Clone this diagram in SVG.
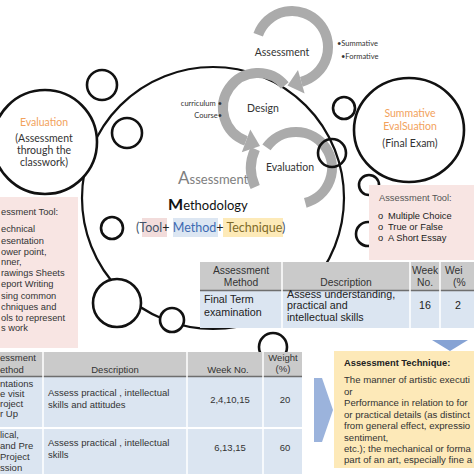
<svg xmlns="http://www.w3.org/2000/svg" width="474" height="474" viewBox="0 0 474 474">
<style>
.c{fill:none;stroke:#111;stroke-width:2.6}
.cw{fill:#fff;stroke:#111;stroke-width:2.6}
.arc{fill:none;stroke:#ababab;stroke-width:10}
.head{fill:#ababab}
.cal{font-family:Lato,"Open Sans",sans-serif}
.ar{font-family:"Liberation Sans",Arial,sans-serif}
.or{fill:#f2a25c}
.dk{fill:#333}
.th{font-size:10.3px;fill:#333;text-anchor:middle}
.td{font-size:10.7px;fill:#222}
.t3{font-size:9.5px;fill:#333}
</style>
<rect width="474" height="474" fill="#fff"/>

<!-- big circle -->
<g id="main-circle">
<circle cx="213" cy="198" r="131" fill="none" stroke="#111" stroke-width="2.2"/>
</g>

<!-- cycle arrows -->
<g id="cycle-arrows">
<path class="arc" d="M258.2,34.7 A36,36 0 1 1 301.3,81.8"/>
<polygon class="head" points="304.6,93.5 298,70 287.5,85.5"/>
<path class="arc" d="M284.8,85.5 A35,35 0 1 0 246,140.9"/>
<polygon class="head" points="241.8,152.3 250.3,129.4 260,146"/>
<path class="arc" d="M266.5,147.4 A36,36 0 1 1 305.3,202.8"/>
<path class="arc" stroke-width="8" d="M255.2,149 A45,45 0 0 0 255.2,187"/>
</g>

<g id="cycle-labels" class="cal">
<text x="282" y="56" font-size="10.5" text-anchor="middle" class="dk">Assessment</text>
<text x="337" y="46" font-size="7.5" class="dk">•Summative</text>
<text x="341" y="59" font-size="7.5" class="dk">•Formative</text>
<text x="263" y="112" font-size="10.5" text-anchor="middle" class="dk">Design</text>
<text x="222" y="106" font-size="7.5" text-anchor="end" class="dk">curriculum •</text>
<text x="222" y="118" font-size="7.5" text-anchor="end" class="dk">Course•</text>
<text x="290" y="171" font-size="10.5" text-anchor="middle" class="dk">Evaluation</text>
</g>

<!-- small decorative circles -->
<g id="small-circles">
<circle class="cw" cx="102" cy="85" r="15"/>
<circle class="cw" cx="127" cy="133" r="15"/>
<circle class="cw" cx="112" cy="228" r="11"/>
<circle class="cw" cx="117" cy="303" r="24"/>
<circle class="cw" cx="172" cy="320" r="12"/>
<circle class="c" cx="344" cy="108" r="11"/>
<circle class="c" cx="332" cy="153" r="14"/>
<circle class="c" cx="369" cy="185" r="10"/>
<circle class="c" cx="368" cy="234" r="12"/>
<circle class="cw" cx="273" cy="347" r="14"/>
</g>

<!-- left evaluation circle -->
<g id="evaluation">
<circle class="cw" cx="45" cy="142" r="52"/>
<g class="cal" font-size="10.5" text-anchor="middle">
<text x="44" y="126" class="or">Evaluation</text>
<text x="44" y="142" class="dk">(Assessment</text>
<text x="44" y="154" class="dk">through the</text>
<text x="44" y="166" class="dk">classwork)</text>
</g>
</g>

<!-- right summative circle -->
<g id="summative">
<ellipse class="cw" cx="409" cy="130" rx="55" ry="52"/>
<g class="cal" font-size="10.5" text-anchor="middle">
<text x="410" y="117" class="or">Summative</text>
<text x="410" y="130" class="or">EvalSuation</text>
<text x="410" y="147" class="dk">(Final Exam)</text>
</g>
</g>

<!-- methodology title -->
<g id="methodology" class="cal">
<text x="178" y="184" fill="#808080"><tspan font-size="17">A</tspan><tspan font-size="13">ssessment</tspan></text>
<text x="168" y="210" fill="#111"><tspan font-size="16" font-weight="bold">M</tspan><tspan font-size="13">ethodology</tspan></text>
<rect x="142" y="218" width="25" height="19" fill="#f2dcdb"/>
<rect x="173" y="218" width="45" height="19" fill="#dce6f2"/>
<rect x="223" y="218" width="60" height="19" fill="#fdeab8"/>
<text x="136" y="232" font-size="12.5" fill="#44546a">(Tool<tspan fill="#222">+ </tspan><tspan fill="#3d6bb3">Method</tspan><tspan fill="#222">+ </tspan><tspan fill="#7f6a2a">Technique</tspan>)</text>
</g>

<!-- left tool box -->
<g id="tool-left" class="ar">
<rect x="0" y="197" width="78" height="151" fill="#f8e5e3"/>
<g font-size="9.3" fill="#333">
<text x="1" y="215">essment Tool:</text>
<text x="1" y="232">echnical</text>
<text x="1" y="244">esentation</text>
<text x="1" y="255">ower point,</text>
<text x="1" y="265">nner,</text>
<text x="1" y="276">rawings Sheets</text>
<text x="1" y="287">eport Writing</text>
<text x="1" y="299">sing common</text>
<text x="1" y="310">chniques and</text>
<text x="1" y="321">ols to represent</text>
<text x="1" y="331">s work</text>
</g>
</g>

<!-- right tool box -->
<g id="tool-right" class="ar">
<rect x="369" y="185" width="105" height="75" fill="#f8e5e3"/>
<text x="379" y="201" font-size="9.3" fill="#555">Assessment Tool:</text>
<g font-size="9.3" fill="#222">
<text x="378" y="219">o</text><text x="388" y="219">Multiple Choice</text>
<text x="378" y="230">o</text><text x="388" y="230">True or False</text>
<text x="378" y="241">o</text><text x="388" y="241">A Short Essay</text>
</g>
</g>

<!-- final term table -->
<g id="table-final" class="ar">
<rect x="200" y="262" width="274" height="28" fill="#cacaca"/>
<rect x="200" y="291" width="274" height="37" fill="#dbe5f1"/>
<line x1="200" y1="290.5" x2="474" y2="290.5" stroke="#6e6e6e" stroke-width="1.5"/>
<g stroke="#fff" stroke-width="1.5">
<line x1="282" y1="262" x2="282" y2="328"/>
<line x1="410" y1="262" x2="410" y2="328"/>
<line x1="440" y1="262" x2="440" y2="328"/>
</g>
<text class="th" x="241" y="274">Assessment</text>
<text class="th" x="241" y="286">Method</text>
<text class="th" x="346" y="286">Description</text>
<text class="th" x="425" y="274">Week</text>
<text class="th" x="425" y="286">No.</text>
<text x="445" y="274" font-size="10.3" fill="#333">Wei</text>
<text x="453" y="286" font-size="10.3" fill="#333">(%</text>
<text class="td" x="204" y="303">Final Term</text>
<text class="td" x="204" y="316">examination</text>
<text class="td" x="287" y="298">Assess understanding,</text>
<text class="td" x="287" y="309">practical and</text>
<text class="td" x="287" y="321">intellectual skills</text>
<text class="td" x="425" y="309" text-anchor="middle">16</text>
<text class="td" x="455" y="309">2</text>
</g>

<!-- arrows -->
<g id="arrows">
<polygon points="432,340 468,340 450,351" fill="#86a3d4"/>
<polygon points="314,378 322,378 333,410 322,442 314,442" fill="#9bb3dc"/>
</g>

<!-- bottom table -->
<g id="table-bottom" class="ar">
<rect x="0" y="352" width="302" height="24" fill="#cacaca"/>
<rect x="0" y="377" width="302" height="50" fill="#dbe5f1"/>
<rect x="0" y="429" width="302" height="45" fill="#dbe5f1"/>
<line x1="0" y1="376.5" x2="302" y2="376.5" stroke="#6e6e6e" stroke-width="1.5"/>
<g stroke="#fff" stroke-width="1.5">
<line x1="43" y1="352" x2="43" y2="474"/>
<line x1="187" y1="352" x2="187" y2="474"/>
<line x1="263" y1="352" x2="263" y2="474"/>
</g>
<g class="t3">
<text x="0" y="361">essment</text>
<text x="0" y="373">ethod</text>
<text x="115" y="373" text-anchor="middle">Description</text>
<text x="228" y="373" text-anchor="middle">Week No.</text>
<text x="283" y="361" text-anchor="middle">Weight</text>
<text x="283" y="372" text-anchor="middle">(%)</text>
<text x="0" y="387">ntations</text>
<text x="0" y="397">e visit</text>
<text x="0" y="407">roject</text>
<text x="0" y="417">r Up</text>
<text x="48" y="396">Assess practical , intellectual</text>
<text x="48" y="408">skills and attitudes</text>
<text x="230" y="403" text-anchor="middle">2,4,10,15</text>
<text x="285" y="403" text-anchor="middle">20</text>
<text x="0" y="438">lical,</text>
<text x="0" y="449">and Pre</text>
<text x="0" y="460">Project</text>
<text x="0" y="471">ssion</text>
<text x="48" y="446">Assess practical , intellectual</text>
<text x="48" y="458">skills</text>
<text x="230" y="451" text-anchor="middle">6,13,15</text>
<text x="285" y="451" text-anchor="middle">60</text>
</g>
</g>

<!-- technique box -->
<g id="technique" class="ar">
<rect x="334" y="351" width="140" height="117" fill="#fde9b8"/>
<text x="344" y="366" font-size="9.3" font-weight="bold" fill="#222">Assessment Technique:</text>
<g font-size="9.6" fill="#333">
<text x="344" y="383">The manner of artistic executi</text>
<text x="344" y="395">or</text>
<text x="344" y="406">Performance in relation to for</text>
<text x="344" y="418">or practical details (as distinct</text>
<text x="344" y="429">from general effect, expressio</text>
<text x="344" y="441">sentiment,</text>
<text x="344" y="452">etc.); the mechanical or forma</text>
<text x="344" y="463">part of an art, especially fine a</text>
</g>
</g>
</svg>
